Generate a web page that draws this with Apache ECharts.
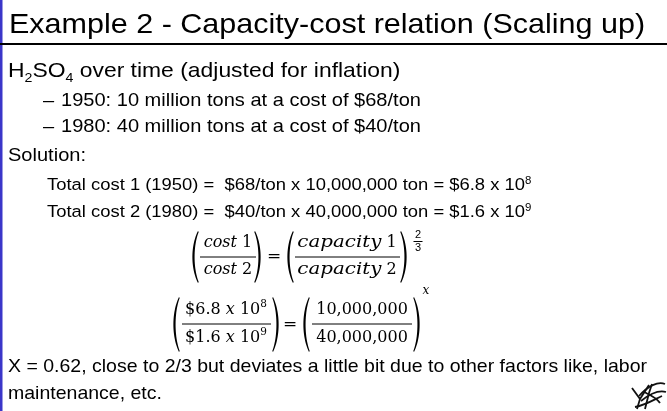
<!DOCTYPE html>
<html><head><meta charset="utf-8">
<script src="https://cdn.jsdelivr.net/npm/echarts@6/dist/echarts.min.js"></script>
<style>html,body{margin:0;padding:0;background:#fff;overflow:hidden}#c{width:667px;height:411px}</style>
</head><body><div id="c"></div>
<script>
// ---- content ----
const titleText = 'Example 2 - Capacity-cost relation (Scaling up)';
const years = [1950, 1980];
const capacityMillion = [10, 40];
const costPerTon = [68, 40];
const capacityTons = ['10,000,000', '40,000,000'];
const totalMantissa = ['6.8', '1.6'];
const totalExponent = ['8', '9'];
const scaleExponent = ['2', '3'];
const resultX = '0.62';
const conclusionLines = [
  'X = ' + resultX + ', close to 2/3 but deviates a little bit due to other factors like, labor',
  'maintenance, etc.'
];

// ---- layout helpers ----
const SANS = '"Liberation Sans", Arial, sans-serif';
const SERIF = '"DejaVu Serif", serif';
const SX = 1.09;
const els = [];
const cv = document.createElement('canvas').getContext('2d');
function mw(t, f) { cv.font = f; return cv.measureText(t).width; }
function sf(size, style) { return (style ? style + ' ' : '') + size + 'px ' + SANS; }
function mf(size, style) { return (style ? style + ' ' : '') + size + 'px ' + SERIF; }
function chain(pieces, x, y, anchor, sx) {
  sx = sx || 1;
  const widths = pieces.map(p => mw(p.t, p.f) * (p.sx || sx));
  const total = widths.reduce((a, b) => a + b, 0);
  let cx = anchor === 'center' ? x - total / 2 : x;
  pieces.forEach((p, i) => {
    els.push({ type: 'text', x: cx, y: y + (p.dy || 0), scaleX: p.sx || sx, silent: true,
      style: { text: p.t, font: p.f, fill: '#000', align: 'left', verticalAlign: 'middle' } });
    cx += widths[i];
  });
  return cx;
}
function line(x1, y1, x2, y2, w) {
  els.push({ type: 'line', silent: true, shape: { x1, y1, x2, y2 }, style: { stroke: '#000', lineWidth: w || 1 } });
}
function bez(a, b, c, d, t) { const u = 1 - t; return u * u * u * a + 3 * u * u * t * b + 3 * u * t * t * c + t * t * t * d; }
function paren(xEdge, top, bot, right) {
  const h = bot - top, s = right ? -1 : 1;
  const X = d => xEdge + s * d;
  const pts = [];
  const N = 24;
  for (let k = 0; k <= N; k++) {
    const t = k / N;
    pts.push([bez(X(7), X(-0.5), X(-0.5), X(7), t), bez(top, top + h * 0.28, bot - h * 0.28, bot, t)]);
  }
  for (let k = N; k >= 0; k--) {
    const t = k / N;
    pts.push([bez(X(7.7), X(2.2), X(2.2), X(7.7), t), bez(top + 1, top + h * 0.28, bot - h * 0.28, bot - 1, t)]);
  }
  els.push({ type: 'polygon', silent: true, shape: { points: pts }, style: { fill: '#000' } });
}
const mid = (base, size) => base - 0.31 * size;

// ---- frame ----
els.push({ type: 'rect', silent: true, shape: { x: 0, y: 0, width: 2.5, height: 411 }, style: { fill: '#3b36c9' } });
chain([{ t: titleText, f: sf(28) }], 9, mid(34, 28), 'left', SX);
line(0, 44, 667, 44, 2);

// ---- H2SO4 line ----
chain([
  { t: 'H', f: sf(21) }, { t: '2', f: sf(13), dy: 6.5 }, { t: 'SO', f: sf(21) }, { t: '4', f: sf(13), dy: 6.5 },
  { t: ' over time (adjusted for inflation)', f: sf(21) }
], 8, mid(78, 21), 'left', SX);

// ---- bullets ----
const bulletBase = [107, 133];
years.forEach((yr, i) => {
  chain([{ t: '–', f: sf(18.4) }], 43, mid(bulletBase[i], 18.4), 'left', SX);
  chain([{ t: yr + ': ' + capacityMillion[i] + ' million tons at a cost of $' + costPerTon[i] + '/ton', f: sf(18.4) }],
    61, mid(bulletBase[i], 18.4), 'left', SX);
});

// ---- solution ----
chain([{ t: 'Solution:', f: sf(18.4) }], 8, mid(162, 18.4), 'left', SX);
const totalBase = [191, 218];
const TS = 16.9;
years.forEach((yr, i) => {
  chain([
    { t: 'Total cost ' + (i + 1) + ' (' + yr + ') =  $' + costPerTon[i] + '/ton x ' + capacityTons[i] + ' ton = $' + totalMantissa[i] + ' x 10', f: sf(TS) },
    { t: totalExponent[i], f: sf(10.5), dy: -5 }
  ], 47, mid(totalBase[i], TS), 'left', SX);
});

// ---- equation 1 ----
const M = 16;
paren(191, 231, 283, false);
chain([{ t: 'cost', f: mf(M, 'italic') }, { t: ' 1', f: mf(M) }], 228, 243, 'center');
chain([{ t: 'cost', f: mf(M, 'italic') }, { t: ' 2', f: mf(M) }], 228, 270, 'center');
line(200, 257, 256, 257, 1);
paren(262, 231, 283, true);
chain([{ t: '=', f: mf(17) }], 274, 257, 'center');
paren(286, 231, 283, false);
chain([{ t: 'capacity', f: mf(M, 'italic'), sx: 1.24 }, { t: ' 1', f: mf(M) }], 347, 243, 'center');
chain([{ t: 'capacity', f: mf(M, 'italic'), sx: 1.24 }, { t: ' 2', f: mf(M) }], 347, 270, 'center');
line(295, 257, 400, 257, 1);
paren(408, 231, 283, true);
chain([{ t: scaleExponent[0], f: sf(11) }], 418, 235, 'center');
line(413.5, 241.5, 422.5, 241.5, 1);
chain([{ t: scaleExponent[1], f: sf(11) }], 418, 248, 'center');

// ---- equation 2 ----
paren(172, 297, 352, false);
chain([{ t: '$' + totalMantissa[0] + ' ', f: mf(M) }, { t: 'x', f: mf(M, 'italic') }, { t: ' 10', f: mf(M) }, { t: totalExponent[0], f: mf(10.5), dy: -6 }], 226, 310, 'center');
chain([{ t: '$' + totalMantissa[1] + ' ', f: mf(M) }, { t: 'x', f: mf(M, 'italic') }, { t: ' 10', f: mf(M) }, { t: totalExponent[1], f: mf(10.5), dy: -6 }], 226, 338, 'center');
line(182, 324, 271, 324, 1);
paren(280, 297, 352, true);
chain([{ t: '=', f: mf(17) }], 290, 325, 'center');
paren(302, 297, 352, false);
chain([{ t: capacityTons[0], f: mf(M) }], 362, 310, 'center');
chain([{ t: capacityTons[1], f: mf(M) }], 362, 338, 'center');
line(312, 324, 412, 324, 1);
paren(421, 297, 352, true);
chain([{ t: 'x', f: mf(12, 'italic') }], 426, 291, 'center');

// ---- conclusion ----
const CS = 17.9;
chain([{ t: conclusionLines[0], f: sf(CS) }], 8, mid(373, CS), 'left', SX);
chain([{ t: conclusionLines[1], f: sf(CS) }], 8, mid(400, CS), 'left', SX);

// ---- signature mark ----
const sigLines = [
  [[632, 388], [640, 399], [637, 409]],
  [[649, 385], [640, 399]],
  [[652, 384], [649, 393], [645, 409]]
];
sigLines.forEach(p => els.push({ type: 'polyline', silent: true, shape: { points: p }, style: { stroke: '#111', lineWidth: 1.8, fill: null } }));
const sigCurves = [
  [639, 396, 648, 386, 658, 381, 665, 384],
  [641, 401, 651, 393, 659, 390, 666, 392],
  [635, 407, 646, 405, 655, 399, 662, 396],
  [644, 392, 650, 395, 656, 397, 660, 403]
];
sigCurves.forEach(c => els.push({ type: 'bezierCurve', silent: true,
  shape: { x1: c[0], y1: c[1], cpx1: c[2], cpy1: c[3], cpx2: c[4], cpy2: c[5], x2: c[6], y2: c[7] },
  style: { stroke: '#111', lineWidth: 1.8, fill: null } }));

const chart = echarts.init(document.getElementById('c'), null, { renderer: 'canvas' });
chart.setOption({ backgroundColor: '#fff', animation: false, graphic: { elements: els } });
</script></body></html>
